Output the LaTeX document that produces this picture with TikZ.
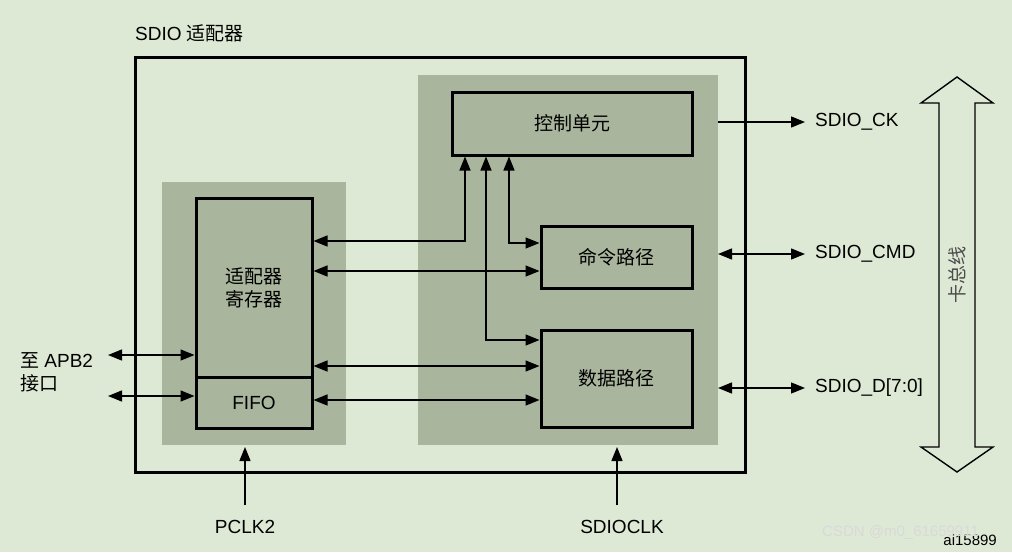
\documentclass[tikz,border=0pt]{standalone}
\usepackage{fontspec}
\setmainfont{Liberation Sans}
\newfontfamily\cjk{Noto Sans CJK SC}
\usetikzlibrary{arrows.meta}
\definecolor{bgc}{HTML}{DDE9D5}
\definecolor{panel}{HTML}{A9B59D}
\begin{document}
\begin{tikzpicture}[x=1pt,y=-1pt,
  blk/.style={draw=black,line width=3pt,fill=panel},
  con/.style={line width=1.4pt,-{Triangle[length=14pt,width=11pt]}},
  bcon/.style={line width=1.4pt,{Triangle[length=14pt,width=11pt]}-{Triangle[length=14pt,width=11pt]}},
  lbl/.style={font=\fontsize{19}{21}\selectfont,inner sep=0pt}]
\fill[bgc] (0,0) rectangle (1012,552);
\useasboundingbox (0,0) rectangle (1012,552);
\node[lbl,anchor=west] (title) at (135,33) {SDIO {\cjk 适配器}};
\draw[line width=3pt,fill=bgc] (135,57) rectangle (745,472);
\fill[panel] (162,182) rectangle (346,445);
\fill[panel] (418,75) rectangle (718,445);
\node[blk,minimum width=240pt,minimum height=63pt,lbl] (ctl) at (572,123.5) {\cjk 控制单元};
\node[blk,minimum width=151pt,minimum height=62pt,lbl] (cmd) at (616.5,257) {\cjk 命令路径};
\node[blk,minimum width=151pt,minimum height=97pt,lbl] (dat) at (616.5,378.5) {\cjk 数据路径};
\node[blk,minimum width=116pt,minimum height=179pt,lbl,align=center] (reg) at (254,287.5) {\cjk 适配器\\[2pt]\cjk 寄存器};
\node[blk,minimum width=116pt,minimum height=51pt,lbl] (fifo) at (254,402.5) {FIFO};
\draw[bcon] (reg.east |- 0,241) -| (ctl.south -| 465,0);
\draw[bcon] (ctl.south -| 486,0) |- (dat.west |- 0,340);
\draw[bcon] (ctl.south -| 509,0) |- (cmd.west |- 0,243);
\draw[bcon] (reg.east |- 0,271) -- (cmd.west |- 0,271);
\draw[bcon] (reg.east |- 0,366) -- (dat.west |- 0,366);
\draw[bcon] (fifo.east |- 0,400) -- (dat.west |- 0,400);
\coordinate (l1) at (108,355);
\coordinate (l2) at (108,396);
\draw[bcon] (l1) -- (reg.west |- l1);
\draw[bcon] (l2) -- (fifo.west |- l2);
\node[lbl,anchor=west,align=left] (apb) at (20,372) {{\cjk 至} APB2\\[2pt]{\cjk 接口}};
\coordinate (r1s) at (718,122); \coordinate (r1) at (805,122);
\coordinate (r2s) at (718,254); \coordinate (r2) at (805,254);
\coordinate (r3s) at (718,388); \coordinate (r3) at (805,388);
\draw[con] (r1s) -- (r1);
\draw[bcon] (r2s) -- (r2);
\draw[bcon] (r3s) -- (r3);
\node[lbl,anchor=west] (ck) at (815,122) {SDIO\_CK};
\node[lbl,anchor=west] (cmdl) at (815,254) {SDIO\_CMD};
\node[lbl,anchor=west] (dl) at (815,388) {SDIO\_D[7:0]};
\draw[line width=1.4pt,fill=bgc] (957,77) -- (993,103) -- (975,103) -- (975,447) -- (993,447) -- (957,472) -- (921,447) -- (939,447) -- (939,103) -- (921,103) -- cycle;
\node[lbl,rotate=90,text=black!70] (bus) at (957,275) {\cjk 卡总线};
\node[lbl] (pclk) at (245,527) {PCLK2};
\node[lbl] (sclk) at (622,527) {SDIOCLK};
\coordinate (p0) at (245,505); \coordinate (s0) at (617,505);
\draw[con] (p0) -- (245,447);
\draw[con] (s0) -- (617,447);
\node[lbl,anchor=east,font=\fontsize{15}{16}\selectfont] (ai) at (997,540) {ai15899};
\node[lbl,anchor=west,font=\fontsize{15}{16}\selectfont,text=white!70!gray] (csdn) at (822,533) {CSDN @m0\_61659911};
\end{tikzpicture}
\end{document}
